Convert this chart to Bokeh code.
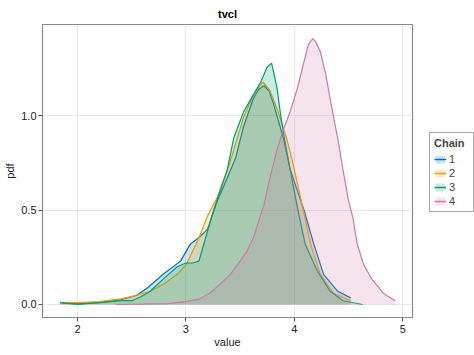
from bokeh.plotting import figure
from bokeh.layouts import row
from bokeh.models import Range1d, Legend, LegendItem, FixedTicker, NumeralTickFormatter
from bokeh.embed import file_html
from bokeh.resources import INLINE

title_text = "tvcl"
x_label = "value"
y_label = "pdf"
legend_title = "Chain"
chain_names = ["1", "2", "3", "4"]

x1 = [1.84, 2.0, 2.2, 2.4, 2.55, 2.65, 2.79, 2.95, 3.04, 3.13, 3.2, 3.29, 3.38, 3.46, 3.53, 3.62, 3.67, 3.72, 3.77, 3.81, 3.90, 3.96, 4.03, 4.09, 4.18, 4.27, 4.40, 4.52]
y1 = [0.01, 0.005, 0.01, 0.025, 0.05, 0.09, 0.16, 0.23, 0.32, 0.36, 0.40, 0.55, 0.67, 0.78, 0.94, 1.09, 1.14, 1.16, 1.13, 1.06, 0.88, 0.72, 0.60, 0.50, 0.32, 0.16, 0.07, 0.035]

x2 = [1.86, 2.0, 2.2, 2.4, 2.52, 2.67, 2.8, 2.92, 3.0, 3.11, 3.2, 3.29, 3.41, 3.53, 3.62, 3.67, 3.71, 3.77, 3.84, 3.93, 3.99, 4.06, 4.15, 4.24, 4.36, 4.52]
y2 = [0.01, 0.01, 0.015, 0.03, 0.045, 0.07, 0.11, 0.16, 0.21, 0.34, 0.47, 0.57, 0.76, 0.99, 1.11, 1.15, 1.18, 1.14, 1.04, 0.88, 0.74, 0.56, 0.32, 0.16, 0.06, 0.02]

x3 = [1.84, 2.0, 2.2, 2.4, 2.5, 2.58, 2.67, 2.8, 2.92, 3.0, 3.06, 3.12, 3.18, 3.26, 3.38, 3.44, 3.53, 3.61, 3.69, 3.75, 3.79, 3.84, 3.87, 3.90, 3.96, 4.03, 4.10, 4.21, 4.33, 4.45, 4.63]
y3 = [0.01, 0.0, 0.01, 0.02, 0.02, 0.04, 0.07, 0.14, 0.20, 0.22, 0.22, 0.23, 0.35, 0.51, 0.71, 0.88, 1.02, 1.10, 1.18, 1.26, 1.28, 1.15, 1.02, 0.91, 0.72, 0.51, 0.32, 0.18, 0.07, 0.02, 0.0]

x4 = [2.35, 2.6, 2.83, 3.0, 3.13, 3.22, 3.32, 3.41, 3.50, 3.56, 3.62, 3.67, 3.72, 3.77, 3.84, 3.90, 3.96, 4.03, 4.09, 4.13, 4.17, 4.20, 4.24, 4.29, 4.33, 4.36, 4.41, 4.45, 4.50, 4.54, 4.58, 4.64, 4.72, 4.82, 4.93]
y4 = [0.0, 0.002, 0.005, 0.015, 0.03, 0.06, 0.11, 0.16, 0.23, 0.28, 0.35, 0.44, 0.53, 0.66, 0.82, 0.93, 1.02, 1.15, 1.29, 1.38, 1.41, 1.39, 1.34, 1.22, 1.09, 1.0, 0.85, 0.71, 0.55, 0.46, 0.32, 0.21, 0.13, 0.06, 0.02]

x_ticks = [2, 3, 4, 5]
y_ticks = [0.0, 0.5, 1.0]

colors = ["#0072B2", "#E69F00", "#009E73", "#CC79A7"]
FONT = "Liberation Sans"

p = figure(width=414, height=355, output_backend="svg", toolbar_location=None,
           x_range=Range1d(1.677, 5.09), y_range=Range1d(-0.069, 1.485),
           min_border_left=42, min_border_right=2, min_border_top=23, min_border_bottom=38)

p.title.text = title_text
p.title.align = "center"
p.title.text_font = FONT
p.title.text_font_size = "11px"
p.title.text_font_style = "bold"
p.title.text_color = "#000000"

lg = figure(width=60, height=355, output_backend="svg", toolbar_location=None,
            x_range=Range1d(0, 1), y_range=Range1d(0, 1),
            min_border_left=0, min_border_right=0, min_border_top=0, min_border_bottom=0)
lg.axis.visible = False
lg.grid.visible = False
lg.outline_line_color = None

items = []
for name, xs, ys, c in zip(chain_names, [x1, x2, x3, x4], [y1, y2, y3, y4], colors):
    p.varea(x=xs, y1=[0] * len(xs), y2=ys, fill_color=c, fill_alpha=0.2)
    p.line(x=xs, y=ys, line_color=c, line_width=1.2)
    # off-screen stand-ins so the legend (in its own panel) can draw swatches
    a = lg.varea(x=[5, 6], y1=[5, 5], y2=[6, 6], fill_color=c, fill_alpha=0.2)
    l = lg.line(x=[5, 6], y=[5, 5], line_color=c, line_width=1.5)
    items.append(LegendItem(label=name, renderers=[a, l]))

for ax in (p.xaxis[0], p.yaxis[0]):
    ax.axis_line_color = "#888888"
    ax.major_tick_line_color = "#555555"
    ax.major_tick_out = 4
    ax.major_tick_in = 0
    ax.minor_tick_line_color = None
    ax.major_label_text_font = FONT
    ax.major_label_text_font_size = "11px"
    ax.major_label_text_color = "#222222"
    ax.axis_label_text_font = FONT
    ax.axis_label_text_font_size = "11px"
    ax.axis_label_text_font_style = "normal"
    ax.axis_label_text_color = "#222222"

p.xaxis.ticker = FixedTicker(ticks=x_ticks)
p.yaxis.ticker = FixedTicker(ticks=y_ticks)
p.yaxis.formatter = NumeralTickFormatter(format="0.0")
p.xaxis.axis_label = x_label
p.yaxis.axis_label = y_label
p.xaxis.major_label_standoff = 3
p.yaxis.major_label_standoff = 2
p.xaxis.axis_label_standoff = 0
p.yaxis.axis_label_standoff = 2

p.xgrid.grid_line_color = "#e8e8e8"
p.ygrid.grid_line_color = "#e8e8e8"
p.outline_line_color = "#888888"
p.outline_line_width = 1.2

legend = Legend(items=items, title=legend_title, location=(15, 105))
legend.title_text_font = FONT
legend.title_text_font_size = "11px"
legend.title_text_font_style = "bold"
legend.title_standoff = 4
legend.label_text_font = FONT
legend.label_text_font_size = "11px"
legend.glyph_width = 12
legend.glyph_height = 10
legend.label_height = 10
legend.spacing = 2
legend.padding = 4
legend.margin = 0
legend.border_line_color = "#555555"
legend.label_standoff = 3
lg.add_layout(legend, "center")

layout = row(p, lg, spacing=0)
open("out.html", "w").write(file_html(layout, INLINE))
